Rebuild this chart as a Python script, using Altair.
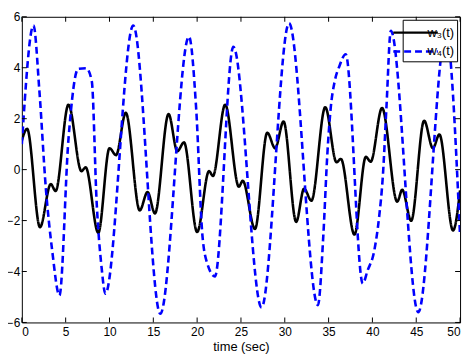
import altair as alt
import pandas as pd

# ---- data ----
t3 = [0, 0.6, 2.07, 3.3, 3.85, 5.32, 6.8, 7.28, 8.72, 10.0, 10.75, 11.86, 13.45,
      14.34, 15.19, 16.74, 17.74, 18.5, 20.0, 21.36, 21.8, 23.2, 24.76, 25.2, 26.6,
      28.0, 28.9, 29.86, 31.3, 32.2, 33.04, 34.62, 35.9, 36.4, 37.95, 39.25, 39.8,
      41.1, 42.83, 43.4, 44.42, 45.9, 46.9, 47.64, 49.2, 50]
w3 = [1.15, 1.6, -2.26, -0.57, -0.84, 2.55, -0.06, 0.09, -2.48, 0.84, 0.57, 2.23, -1.6,
      -0.88, -1.72, 2.18, 0.72, 1.07, -2.45, -0.06, -0.25, 2.55, -0.67, -0.44, -2.33,
      1.45, 0.84, 1.89, -2.05, -0.75, -1.22, 2.45, 0.29, 0.42, -2.55, 0.5, 0.31,
      2.42, -1.26, -0.79, -2.01, 1.92, 0.84, 1.38, -2.39, -0.82]

t4 = [0, 1.33, 2.0, 2.73, 3.47, 4.29, 5.32, 6.43, 7.35, 7.98, 8.54, 9.1, 9.53, 12.71,
      15.8, 19.07, 19.88, 20.6, 21.17, 22.03, 24.13, 27.35, 30.49, 33.78, 34.4, 34.85,
      35.25, 35.7, 36.25, 36.95, 38.9, 39.45, 40.2, 40.75, 41.2, 41.6, 42.1, 45.23,
      48.4, 50]
w4 = [1.0, 5.66, 3.1, -0.7, -3.2, -4.94, 1.2, 3.96, 3.98, 3.47, -1.32, -3.85, -4.87, 5.66,
      -5.66, 5.22, 2.45, -2.57, -3.7, -4.19, 4.82, -5.41, 5.75, -5.32, -2.57, 0.57,
      2.45, 3.47, 4.08, 4.53, -4.47, -3.96, -3.2, -1.9, -0.2, 2.45, 5.45, -5.6,
      5.4, -2.6]

series_names = ["w\u2083(t)", "w\u2084(t)"]
series_colors = ["#000000", "#0000ff"]
series_dash = [[1, 0], [7, 4]]

x_ticks = [0, 5, 10, 15, 20, 25, 30, 35, 40, 45, 50]
y_ticks = [-6, -4, -2, 0, 2, 4, 6]

# ---- tables ----
df = pd.concat([
    pd.DataFrame({"t": t3, "w": w3, "s": series_names[0]}),
    pd.DataFrame({"t": t4, "w": w4, "s": series_names[1]}),
], ignore_index=True)
xt = pd.DataFrame({"t": x_ticks})
yt = pd.DataFrame({"w": y_ticks})

W, H = 443, 309
FONT = "Liberation Sans"

xs = alt.Scale(domain=[0, 50], nice=False, zero=False)
ys = alt.Scale(domain=[-6, 6], nice=False, zero=False)

x_axis = alt.Axis(values=x_ticks, tickSize=0, domain=False, grid=False,
                  labelPadding=4, title="time (sec)", titlePadding=3,
                  labelFontSize=12, titleFontSize=13, titleFontWeight="normal",
                  labelFont=FONT, titleFont=FONT, labelColor="black", titleColor="black")
y_axis = alt.Axis(values=y_ticks, tickSize=0, domain=False, grid=False,
                  labelPadding=2, title=None, labelFontSize=12, labelFont=FONT,
                  labelColor="black")

X = alt.X("t:Q", scale=xs, axis=x_axis)
Y = alt.Y("w:Q", scale=ys, axis=y_axis)

leg = alt.Legend(title=None, orient="top-right", offset=3, padding=3,
                 strokeColor="black", fillColor="white",
                 symbolType="M-2.6,0H2.6", symbolSize=300, symbolStrokeWidth=2.5,
                 labelFontSize=13, labelFont=FONT, labelColor="black",
                 rowPadding=2, labelOffset=2)

lines = alt.Chart(df).mark_line(interpolate="monotone", strokeWidth=2.6, clip=True).encode(
    x=X, y=Y,
    color=alt.Color("s:N", scale=alt.Scale(domain=series_names, range=series_colors), legend=leg),
    strokeDash=alt.StrokeDash("s:N", scale=alt.Scale(domain=series_names, range=series_dash), legend=leg),
)

bottom_ticks = alt.Chart(xt).mark_rule(color="black", strokeWidth=1).encode(
    x=X, y=alt.value(H), y2=alt.value(H - 5))
top_ticks = alt.Chart(xt).mark_rule(color="black", strokeWidth=1).encode(
    x=X, y=alt.value(0), y2=alt.value(5))
left_ticks = alt.Chart(yt).mark_rule(color="black", strokeWidth=1).encode(
    y=Y, x=alt.value(0), x2=alt.value(5))
right_ticks = alt.Chart(yt).mark_rule(color="black", strokeWidth=1).encode(
    y=Y, x=alt.value(W - 5), x2=alt.value(W))

chart = alt.layer(lines, bottom_ticks, top_ticks, left_ticks, right_ticks).properties(
    width=W, height=H,
    autosize=alt.AutoSizeParams(type="none"),
    padding={"left": 14, "top": 7, "right": 6, "bottom": 30},
    background="white",
).configure_view(stroke="black", strokeWidth=1)

chart.save("out.html", embed_options={"renderer": "svg", "actions": False})
